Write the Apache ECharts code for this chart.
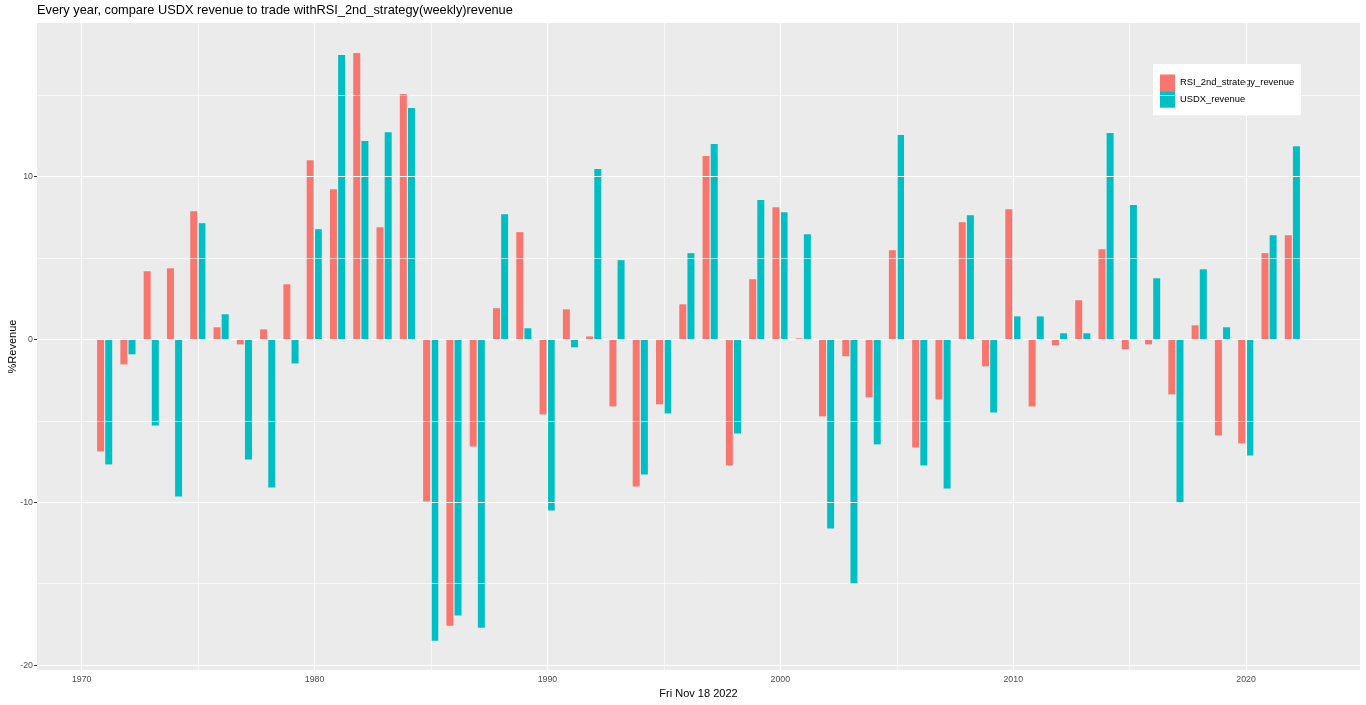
<!DOCTYPE html>
<html>
<head>
<meta charset="utf-8">
<script src="https://cdn.jsdelivr.net/npm/echarts@6/dist/echarts.min.js"></script>
<style>
html,body{margin:0;padding:0;background:#fff;}
#chart{width:1366px;height:705px;}
</style>
</head>
<body>
<div id="chart"></div>
<script>
const years = [1971,1972,1973,1974,1975,1976,1977,1978,1979,1980,1981,1982,1983,1984,1985,1986,1987,1988,1989,1990,1991,1992,1993,1994,1995,1996,1997,1998,1999,2000,2001,2002,2003,2004,2005,2006,2007,2008,2009,2010,2011,2012,2013,2014,2015,2016,2017,2018,2019,2020,2021,2022];
const rsiRevenue = [-6.88,-1.54,4.18,4.36,7.87,0.74,-0.31,0.61,3.38,11.0,9.22,17.58,6.88,15.06,-9.96,-17.58,-6.58,1.91,6.58,-4.61,1.84,0.18,-4.12,-9.03,-3.99,2.15,11.25,-7.74,3.69,8.11,0.06,-4.73,-1.04,-3.56,5.47,-6.64,-3.69,7.19,-1.66,7.99,-4.12,-0.37,2.40,5.53,-0.61,-0.31,-3.38,0.86,-5.90,-6.39,5.29,6.39];
const usdxRevenue = [-7.68,-0.92,-5.29,-9.65,7.13,1.54,-7.38,-9.10,-1.48,6.76,17.46,12.17,12.72,14.2,-18.5,-16.96,-17.70,7.68,0.68,-10.51,-0.49,10.45,4.86,-8.30,-4.55,5.29,11.99,-5.78,8.55,7.80,6.45,-11.62,-15.0,-6.45,12.54,-7.74,-9.16,7.62,-4.49,1.41,1.41,0.37,0.37,12.66,8.24,3.75,-10.02,4.30,0.74,-7.13,6.39,11.86];
const seriesNames = ['RSI_2nd_strategy_revenue','USDX_revenue'];
const xTickLabels = [1970,1980,1990,2000,2010,2020];
const xMinorGrid = [1975,1985,1995,2005,2015];
const yTickLabels = [-20,-10,0,10];
const yMinorGrid = [-15,-5,5,15];

const colors = ['#F8766D','#00BFC4'];
const offsets = [[-0.34,-0.04],[0.01,0.31]];
const font = 'Liberation Sans, Arial, sans-serif';

function makeRender(k){
  return function(params, api){
    const x = api.value(0), v = api.value(1);
    const a = api.coord([x + offsets[k][0], v]);
    const b = api.coord([x + offsets[k][1], 0]);
    return {type:'rect', shape:{x:a[0], y:Math.min(a[1],b[1]), width:b[0]-a[0], height:Math.abs(b[1]-a[1])}, style:{fill:colors[k]}};
  };
}

const gridLines = [];
xTickLabels.forEach(v=>gridLines.push({xAxis:v, lineStyle:{color:'#fff', width:1.1, type:'solid'}}));
xMinorGrid.forEach(v=>gridLines.push({xAxis:v, lineStyle:{color:'#fff', width:0.6, type:'solid'}}));
yTickLabels.forEach(v=>gridLines.push({yAxis:v, lineStyle:{color:'#fff', width:1.1, type:'solid'}}));
yMinorGrid.forEach(v=>gridLines.push({yAxis:v, lineStyle:{color:'#fff', width:0.6, type:'solid'}}));

const chart = echarts.init(document.getElementById('chart'), null, {renderer:'canvas'});
chart.setOption({
  animation:false,
  backgroundColor:'#fff',
  textStyle:{fontFamily:font},
  title:{text:'Every year, compare USDX revenue to trade withRSI_2nd_strategy(weekly)revenue', left:37, top:4, padding:0,
    textStyle:{fontSize:12.8, fontWeight:'normal', color:'#000', fontFamily:font}},
  grid:{left:37, right:6, top:23, bottom:35, show:true, backgroundColor:'#EBEBEB', borderWidth:0, containLabel:false, outerBoundsMode:'none'},
  legend:{orient:'vertical', left:1153, top:64, itemWidth:15, itemHeight:16.6, itemGap:0, icon:'rect',
    backgroundColor:'#fff', padding:[10.5,7,7.5,7],
    textStyle:{fontSize:9.4, color:'#000', fontFamily:font, padding:[4,0,0,0]},
    data:seriesNames},
  xAxis:{type:'value', min:1968.08, max:2024.89,
    axisLine:{show:false},
    axisTick:{show:true, length:3, lineStyle:{color:'#333'}, customValues:xTickLabels},
    axisLabel:{customValues:xTickLabels, color:'#4D4D4D', fontSize:8.8, margin:5, fontFamily:font, formatter:v=>String(v)},
    splitLine:{show:false},
    name:'Fri Nov 18 2022', nameLocation:'middle', nameGap:18, nameMoveOverlap:false,
    nameTextStyle:{fontSize:11, color:'#000', fontFamily:font}},
  yAxis:{type:'value', min:-20.3, max:19.42,
    axisLine:{show:false},
    axisTick:{show:true, length:3, lineStyle:{color:'#333'}, customValues:yTickLabels},
    axisLabel:{customValues:yTickLabels, color:'#4D4D4D', fontSize:8.8, margin:4, fontFamily:font, formatter:v=>String(v)},
    splitLine:{show:false},
    name:'%Revenue', nameLocation:'middle', nameGap:19, nameRotate:90, nameMoveOverlap:false,
    nameTextStyle:{fontSize:11, color:'#000', fontFamily:font}},
  series:[
    {type:'line', name:'grid', data:[], z:1, silent:true, symbol:'none',
      markLine:{silent:true, symbol:['none','none'], label:{show:false}, animation:false, data:gridLines}},
    {type:'custom', name:seriesNames[0], z:2, itemStyle:{color:colors[0]}, renderItem:makeRender(0),
      encode:{x:0, y:1}, data:years.map((y,i)=>[y, rsiRevenue[i]])},
    {type:'custom', name:seriesNames[1], z:2, itemStyle:{color:colors[1]}, renderItem:makeRender(1),
      encode:{x:0, y:1}, data:years.map((y,i)=>[y, usdxRevenue[i]])}
  ]
});
</script>
</body>
</html>
